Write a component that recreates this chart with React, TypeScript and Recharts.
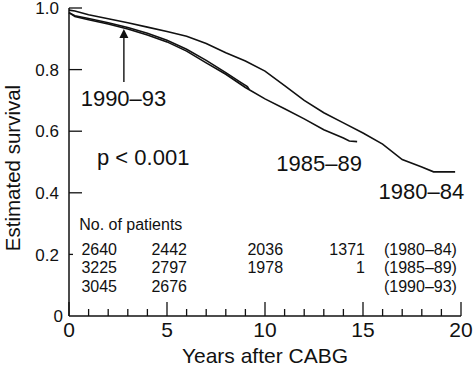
import React from 'react'
import {
  LineChart,
  Line,
  XAxis,
  YAxis,
  ReferenceDot,
  ReferenceLine,
} from 'recharts'

// survival curves (years after CABG, estimated survival)
const years80 = [0, 0.3, 1, 2, 3, 4, 5, 6, 7, 8, 9, 10, 11, 12, 13, 14, 15, 16, 17, 18, 18.6, 19.7]
const surv80 = [0.993, 0.99, 0.978, 0.965, 0.952, 0.938, 0.924, 0.908, 0.885, 0.855, 0.828, 0.795, 0.748, 0.7, 0.66, 0.627, 0.594, 0.558, 0.508, 0.484, 0.468, 0.468]

const years85 = [0, 0.3, 1, 2, 3, 4, 5, 6, 7, 8, 9, 10, 11, 12, 13, 14, 14.3, 14.7]
const surv85 = [0.985, 0.972, 0.962, 0.948, 0.932, 0.912, 0.89, 0.86, 0.822, 0.785, 0.742, 0.705, 0.673, 0.64, 0.605, 0.578, 0.568, 0.566]

const years90 = [0, 0.3, 1, 2, 3, 4, 5, 6, 7, 8, 8.8, 9.1, 9.2]
const surv90 = [0.985, 0.975, 0.966, 0.952, 0.937, 0.918, 0.895, 0.866, 0.83, 0.79, 0.757, 0.745, 0.735]

const xTicks = [0, 1, 2, 3, 4, 5, 6, 7, 8, 9, 10, 11, 12, 13, 14, 15, 16, 17, 18, 19, 20]
const yTicks = [0, 0.2, 0.4, 0.6, 0.8, 1.0]

// number of patients at risk
const patients80 = [2640, 2442, 2036, 1371]
const patients85 = [3225, 2797, 1978, 1]
const patients90 = [3045, 2676]
const cohorts = ['(1980–84)', '(1985–89)', '(1990–93)']

// table anchors in data space (right edge of each column / row centre)
const colYears = [2.45, 6.02, 10.92, 15.1]
const cohortYear = 16.07
const rowSurv = [0.2175, 0.159, 0.097]

const FONT = '"Liberation Sans", Arial, sans-serif'
const INK = '#111'

const zip = (xs: number[], ys: number[]) => xs.map((year, i) => ({ year, s: ys[i] }))

const XTick = (props: any) => {
  const { x, y, payload } = props
  const major = payload.value % 5 === 0
  return (
    <g>
      <line x1={x} x2={x} y1={y} y2={y - (major ? 14 : 7)} stroke={INK} strokeWidth={1.3} />
      {major && (
        <text x={x} y={y + 21} textAnchor="middle" fontSize={21} fontFamily={FONT} fill={INK}>
          {payload.value}
        </text>
      )}
    </g>
  )
}

const YTick = (props: any) => {
  const { x, y, payload } = props
  const v = payload.value
  const len = v === 0 ? 0 : v < 0.3 ? 4 : 13
  return (
    <g>
      {len > 0 && <line x1={x} x2={x + len} y1={y} y2={y} stroke={INK} strokeWidth={1.3} />}
      <text
        x={v === 0 ? x - 6 : x - 10}
        y={y}
        dy="0.36em"
        textAnchor="end"
        fontSize={17}
        fontFamily={FONT}
        fill={INK}
      >
        {v === 0 ? '0' : v.toFixed(1)}
      </text>
    </g>
  )
}

const textShape = (label: string, size: number, anchor: 'start' | 'middle' | 'end') => (p: any) => (
  <text
    x={p.cx}
    y={p.cy}
    dy="0.36em"
    textAnchor={anchor}
    fontSize={size}
    fontFamily={FONT}
    fill={INK}
  >
    {label}
  </text>
)

export default function App() {
  const rows = [patients80, patients85, patients90]
  return (
    <div style={{ position: 'absolute', left: 0, top: 0, background: '#fff' }}>
      <LineChart width={474} height={366} margin={{ top: 8, right: 13, bottom: 20, left: 9 }}>
        <XAxis
          type="number"
          dataKey="year"
          domain={[0, 20]}
          ticks={xTicks}
          interval={0}
          height={30}
          tickSize={0}
          tickMargin={0}
          tickLine={false}
          axisLine={{ stroke: INK, strokeWidth: 1.5 }}
          tick={<XTick />}
          label={{
            content: (p: any) => (
              <text
                x={p.viewBox.x + p.viewBox.width / 2}
                y={p.viewBox.y + 47}
                textAnchor="middle"
                fontSize={21}
                fontFamily={FONT}
                fill={INK}
              >
                Years after CABG
              </text>
            ),
          }}
        />
        <YAxis
          type="number"
          domain={[0, 1]}
          ticks={yTicks}
          interval={0}
          width={60}
          tickSize={0}
          tickMargin={0}
          tickLine={false}
          axisLine={{ stroke: INK, strokeWidth: 1.5 }}
          tick={<YTick />}
          label={{
            content: (p: any) => {
              const cy = p.viewBox.y + p.viewBox.height / 2 + 6
              return (
                <text
                  x={12}
                  y={cy}
                  transform={`rotate(-90 12 ${cy})`}
                  textAnchor="middle"
                  dominantBaseline="central"
                  fontSize={20.5}
                  fontFamily={FONT}
                  fill={INK}
                >
                  Estimated survival
                </text>
              )
            },
          }}
        />

        <Line data={zip(years80, surv80)} dataKey="s" type="linear" stroke={INK} strokeWidth={1.6} dot={false} isAnimationActive={false} />
        <Line data={zip(years85, surv85)} dataKey="s" type="linear" stroke={INK} strokeWidth={1.6} dot={false} isAnimationActive={false} />
        <Line data={zip(years90, surv90)} dataKey="s" type="linear" stroke={INK} strokeWidth={1.6} dot={false} isAnimationActive={false} />

        {/* arrow to the 1990-93 curve */}
        <ReferenceLine segment={[{ x: 2.8, y: 0.76 }, { x: 2.8, y: 0.91 }]} stroke={INK} strokeWidth={1.4} />
        <ReferenceDot
          x={2.8}
          y={0.932}
          r={0}
          shape={(p: any) => (
            <path d={`M${p.cx},${p.cy} L${p.cx - 4.5},${p.cy + 9} L${p.cx + 4.5},${p.cy + 9} Z`} fill={INK} />
          )}
        />

        <ReferenceDot x={2.78} y={0.708} r={0} shape={textShape('1990–93', 22, 'middle')} />
        <ReferenceDot x={1.43} y={0.516} r={0} shape={textShape('p < 0.001', 22, 'start')} />
        <ReferenceDot x={12.76} y={0.497} r={0} shape={textShape('1985–89', 22, 'middle')} />
        <ReferenceDot x={17.98} y={0.406} r={0} shape={textShape('1980–84', 22, 'middle')} />

        {/* patients at risk table */}
        <ReferenceDot x={0.52} y={0.299} r={0} shape={textShape('No. of patients', 16, 'start')} />
        {rows.map((row, ri) =>
          row.map((n, ci) => (
            <ReferenceDot
              key={`${ri}-${ci}`}
              x={colYears[ci]}
              y={rowSurv[ri]}
              r={0}
              shape={textShape(String(n), 16, 'end')}
            />
          ))
        )}
        {cohorts.map((c, ri) => (
          <ReferenceDot key={c} x={cohortYear} y={rowSurv[ri]} r={0} shape={textShape(c, 16, 'start')} />
        ))}
      </LineChart>
    </div>
  )
}
